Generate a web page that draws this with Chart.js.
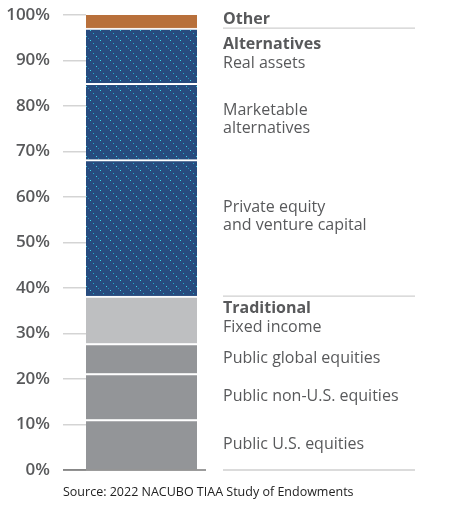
<!DOCTYPE html>
<html>
<head>
<meta charset="utf-8">
<script src="https://cdn.jsdelivr.net/npm/chart.js@4"></script>
<style>
  html, body { margin: 0; padding: 0; background: #fff; }
  #wrap { width: 465px; height: 505px; position: relative; }
</style>
</head>
<body>
<div id="wrap"><canvas id="allocChart"></canvas></div>
<script>
// Asset allocation, bottom of the stack first (percent of portfolio)
const segments = ["Public U.S. equities", "Public non-U.S. equities", "Public global equities",
  "Fixed income", "Private equity and venture capital", "Marketable alternatives",
  "Real assets", "Other"];
const shares = [11.1, 10.1, 6.6, 10.4, 30.0, 16.8, 12.1, 2.9];
const labelLines = [["Public U.S. equities"], ["Public non-U.S. equities"], ["Public global equities"],
  ["Fixed income"], ["Private equity", "and venture capital"], ["Marketable", "alternatives"],
  ["Real assets"], []];
const groupHeaders = { 3: "Traditional", 6: "Alternatives", 7: "Other" };
const yTicks = [0, 10, 20, 30, 40, 50, 60, 70, 80, 90, 100];

const FONT = "'Open Sans', sans-serif";
const TEXT = "#58595b";

document.addEventListener("DOMContentLoaded", () => {
  const ctx = document.getElementById("allocChart").getContext("2d");

  // dotted diagonal hatch for the alternatives block
  const pc = document.createElement("canvas");
  pc.width = 10; pc.height = 10;
  const p = pc.getContext("2d");
  p.fillStyle = "#274b7e";
  p.fillRect(0, 0, 10, 10);
  [[0, 0, "#3ad6e6"], [3, 3, "#22a9c8"], [6, 6, "#3ad6e6"], [8, 8, "#1d8fb3"]].forEach(([x, y, c]) => {
    p.fillStyle = c;
    p.fillRect(x, y, 1, 1);
  });
  const hatch = ctx.createPattern(pc, "repeat");

  const colors = ["#939598", "#939598", "#939598", "#bebfc1", hatch, hatch, hatch, "#b8703b"];
  const nudge = [0, 0, 0, 0, -12, -2, 0, -2];

  const sideLabels = {
    id: "sideLabels",
    afterDraw(chart) {
      const { ctx, chartArea, scales } = chart;
      const y = scales.y;
      const x0 = chartArea.right + 26, x1 = x0 + 192;
      ctx.save();

      // baseline under bar
      ctx.strokeStyle = "#3a3a3a";
      ctx.lineWidth = 1.2;
      ctx.beginPath();
      ctx.moveTo(chartArea.left - 23, y.getPixelForValue(0));
      ctx.lineTo(chartArea.right + 9, y.getPixelForValue(0));
      ctx.stroke();

      // separators on the right: bottom, top of traditional, top of alternatives
      const cum = [];
      shares.reduce((a, v, i) => (cum[i] = a, a + v), 0);
      ctx.strokeStyle = "#cfcfcf";
      ctx.lineWidth = 1.3;
      [0, cum[4], cum[7]].forEach((v) => {
        const py = y.getPixelForValue(v);
        ctx.beginPath();
        ctx.moveTo(x0, py);
        ctx.lineTo(x1, py);
        ctx.stroke();
      });

      ctx.textBaseline = "middle";
      ctx.textAlign = "left";
      ctx.fillStyle = TEXT;
      shares.forEach((v, i) => {
        const mid = y.getPixelForValue(cum[i] + v / 2) + nudge[i];
        const lines = labelLines[i];
        const head = groupHeaders[i];
        if (head && lines.length) {
          ctx.font = "bold 16px " + FONT;
          ctx.fillText(head, x0, mid - 11);
          ctx.font = "16px " + FONT;
          ctx.fillText(lines[0], x0, mid + 8);
        } else if (head) {
          ctx.font = "bold 16px " + FONT;
          ctx.fillText(head, x0, mid);
        } else {
          ctx.font = "16px " + FONT;
          const lh = 18;
          lines.forEach((t, k) => ctx.fillText(t, x0, mid + (k - (lines.length - 1) / 2) * lh));
        }
      });

      ctx.font = "12.5px " + FONT;
      ctx.fillStyle = "#222";
      ctx.fillText("Source: 2022 NACUBO TIAA Study of Endowments", chartArea.left - 23, 492);
      ctx.restore();
    }
  };

  new Chart(ctx, {
    type: "bar",
    data: {
      labels: ["2022"],
      datasets: segments.map((name, i) => ({
        label: name,
        data: [shares[i]],
        backgroundColor: colors[i],
        borderColor: "rgba(255,255,255,0.85)",
        borderWidth: i === 7 ? 0 : { top: 2, bottom: 0, left: 0, right: 0 },
        borderSkipped: false,
        barPercentage: 1,
        categoryPercentage: 1
      }))
    },
    options: {
      responsive: true,
      maintainAspectRatio: false,
      animation: false,
      layout: { padding: { left: 0, right: 268, top: 15, bottom: 35 } },
      plugins: { legend: { display: false }, tooltip: { enabled: false } },
      scales: {
        x: { stacked: true, display: false },
        y: {
          stacked: true,
          min: 0,
          max: 100,
          afterBuildTicks: (s) => { s.ticks = yTicks.map(v => ({ value: v })); },
          afterFit: (s) => { s.width = 86; s.paddingTop = 0; s.paddingBottom = 0; },
          border: { display: false },
          grid: { drawOnChartArea: false, drawTicks: true, tickLength: 23, color: "#d4d4d4", lineWidth: 1.5 },
          ticks: {
            padding: 13,
            color: TEXT,
            font: { family: FONT, size: 17, weight: "600" },
            callback: (v) => v + "%"
          }
        }
      }
    },
    plugins: [sideLabels]
  });
});
</script>
</body>
</html>
